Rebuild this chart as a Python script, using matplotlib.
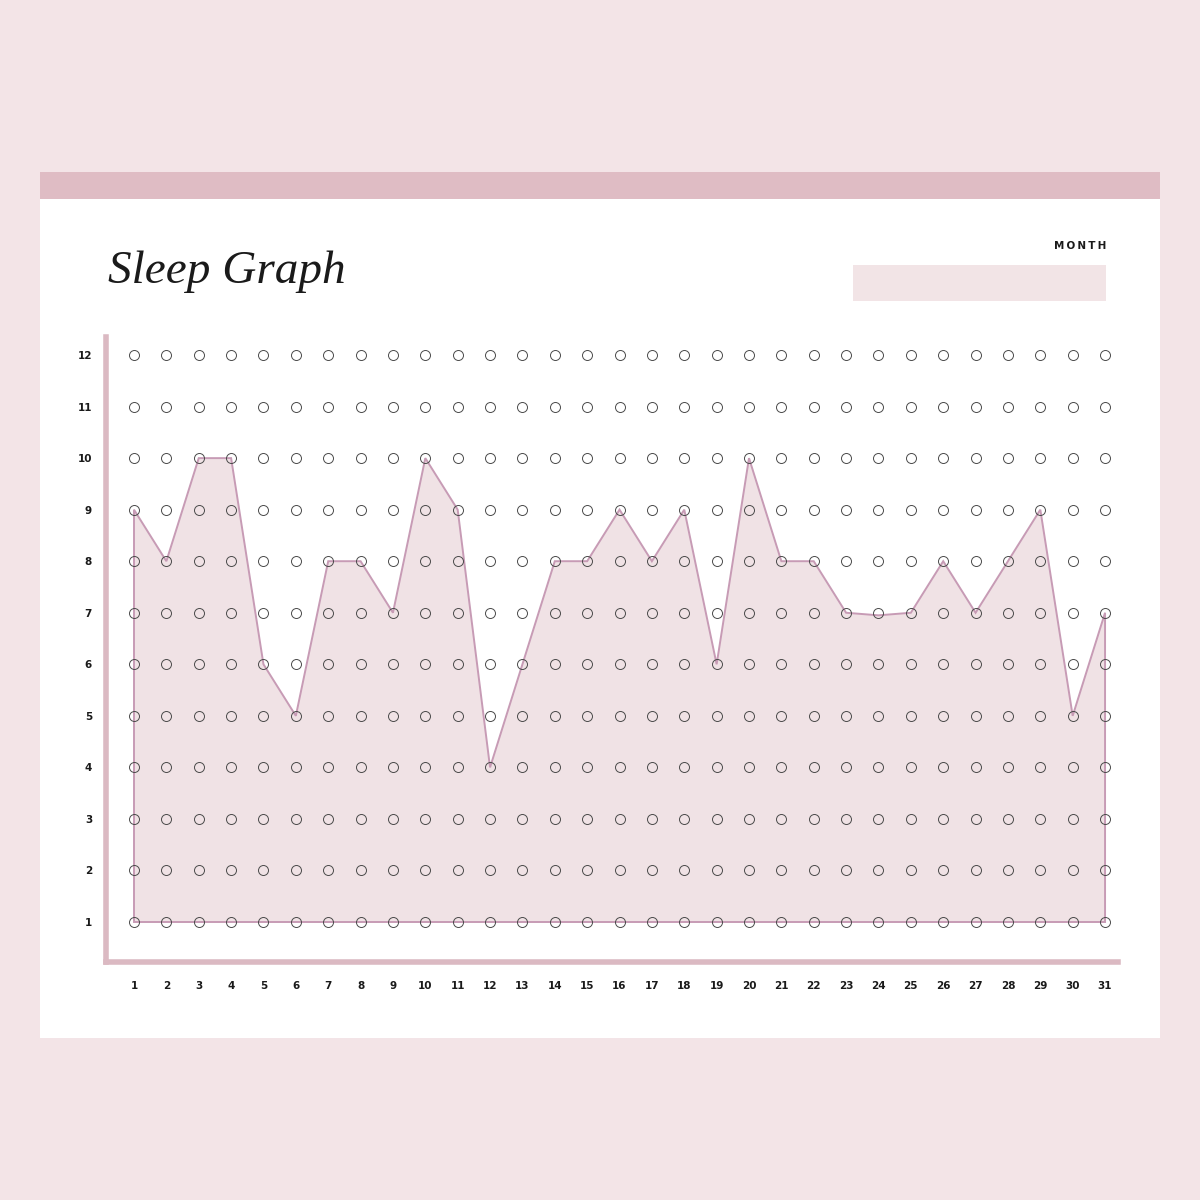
"""
Sleep graph: hours slept per day of the month, dotted grid template.
"""
import matplotlib
matplotlib.use("Agg")
import matplotlib.pyplot as plt
from matplotlib.patches import Rectangle

BG = "#f3e4e7"
BAND = "#dfbcc4"
AXIS_PINK = "#dbb9c2"
FILL = "#f0e2e5"
LINE = "#c79bb5"
DOT = "#4a4a4a"

days = list(range(1, 32))
hours = [9, 8, 10, 10, 6, 5, 8, 8, 7, 10, 9, 4, 6, 8, 8, 9,
         8, 9, 6, 10, 8, 8, 7, 6.95, 7, 8, 7, 8, 9, 5, 7]
grid_hours = list(range(1, 13))

fig = plt.figure(figsize=(12, 12), dpi=100)
fig.patch.set_facecolor(BG)

# ── card + header ────────────────────────────────────────────────────────────
W, H = 1200, 1200
def fx(px):
    return px / W
def fy(py):
    return 1 - py / H

fig.patches.append(Rectangle((fx(40), fy(1038)), fx(1160) - fx(40), fy(172) - fy(1038),
                             transform=fig.transFigure, facecolor="white",
                             edgecolor="none", zorder=0))
fig.patches.append(Rectangle((fx(40), fy(199)), fx(1160) - fx(40), fy(172) - fy(199),
                             transform=fig.transFigure, facecolor=BAND,
                             edgecolor="none", zorder=1))
fig.patches.append(Rectangle((fx(853), fy(301)), fx(1106) - fx(853), fy(265) - fy(301),
                             transform=fig.transFigure, facecolor="#f2e4e6",
                             edgecolor="none", zorder=1))

fig.text(fx(108), fy(272), "Sleep Graph", family="Liberation Serif", style="italic",
         fontsize=34, color="#1a1a1a", va="center", ha="left")
fig.text(fx(1106), fy(246), "M\u2009O\u2009N\u2009T\u2009H", family="DejaVu Sans",
         fontweight="bold", fontsize=7.5, color="#1a1a1a", va="center", ha="right")

# ── plot area ────────────────────────────────────────────────────────────────
ax = fig.add_axes([fx(106), fy(962), fx(1118) - fx(106), fy(337) - fy(962)])
ax.set_zorder(5)
ax.set_facecolor("none")
ax.set_xlim(0.135, 31.40)
ax.set_ylim(0.224, 12.35)

poly_x = [days[0]] + days + [days[-1]]
poly_y = [1] + hours + [1]
ax.fill(poly_x, poly_y, facecolor=FILL, edgecolor=LINE, linewidth=1.4, zorder=1)

for h in grid_hours:
    ax.plot(days, [h] * len(days), linestyle="none", marker="o", markersize=7.2,
            markerfacecolor="none", markeredgecolor=DOT, markeredgewidth=0.7, zorder=2)

for side in ("top", "right"):
    ax.spines[side].set_visible(False)
for side in ("left", "bottom"):
    ax.spines[side].set_color(AXIS_PINK)
    ax.spines[side].set_linewidth(4)

ax.set_xticks(days)
ax.set_yticks(grid_hours)
ax.tick_params(length=0)
ax.tick_params(axis="x", pad=14)
ax.tick_params(axis="y", pad=10)
for lab in ax.get_xticklabels() + ax.get_yticklabels():
    lab.set_family("DejaVu Sans")
    lab.set_fontweight("bold")
    lab.set_fontsize(7.5)
    lab.set_color("#1a1a1a")

fig.savefig("out.png", dpi=100, facecolor=BG)
